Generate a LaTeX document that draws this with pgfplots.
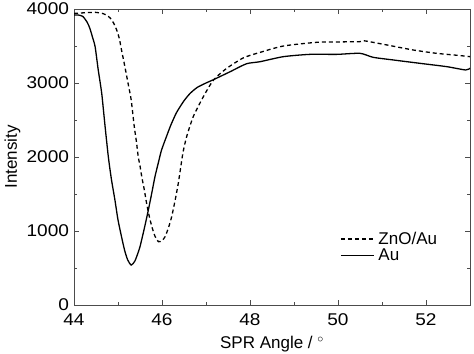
\documentclass[border=0pt]{standalone}
\usepackage{pgfplots}
\pgfplotsset{compat=1.18}
\usepackage{fontspec}
\setmainfont{Liberation Sans}
\usetikzlibrary{calc}
\begin{document}
\begin{tikzpicture}
\begin{axis}[
  name=ax,
  scale only axis,
  width=396bp, height=296bp,
  xmin=44, xmax=53, ymin=0, ymax=4000,
  xtick={44,46,48,50,52},
  ytick={0,1000,2000,3000,4000},
  minor x tick num=1,
  minor y tick num=1,
  tick align=inside,
  major tick length=5bp,
  minor tick length=3bp,
  axis line style={black!70, line width=0.8pt},
  every tick/.style={black!70, line width=0.7pt},
  scaled y ticks=false,
  /pgf/number format/assume math mode=true,
  /pgf/number format/1000 sep={},
  tick label style={font=\fontsize{17bp}{20bp}\selectfont, xscale=1.12},
  xticklabel style={yshift=-5bp},
  yticklabel style={xshift=-1bp},
  label style={font=\fontsize{17bp}{20bp}\selectfont},
  xlabel={SPR Angle / $^\circ$},
  ylabel={Intensity},
  xlabel style={yshift=-4bp},
  ylabel style={yshift=-1bp},
  legend style={draw=none, fill=none, font=\fontsize{17bp}{20bp}\selectfont,
    at={(0.93,0.257)}, anchor=north east, row sep=-1bp, inner sep=1bp,
    nodes={inner xsep=4bp}},
  legend cell align=left,
  legend image code/.code={\draw[#1] (0bp,0bp) -- (33bp,0bp);},
]
\addplot[black, line width=1.3pt, dash pattern=on 4bp off 3bp, smooth, tension=0.4] coordinates {
(44.00,3940) (44.21,3948) (44.48,3955) (44.65,3940) (44.74,3915) (44.82,3880)
(44.90,3810) (44.97,3716) (45.03,3600) (45.08,3446) (45.14,3270) (45.20,3085)
(45.25,2930) (45.30,2770) (45.37,2410) (45.42,2200) (45.46,2004) (45.50,1880)
(45.54,1734) (45.60,1550) (45.65,1374) (45.71,1200) (45.77,1058) (45.84,930)
(45.92,856) (46.00,870) (46.07,923) (46.15,1050) (46.22,1194) (46.30,1420)
(46.37,1644) (46.43,1880) (46.48,2070) (46.56,2275) (46.71,2545) (46.94,2815)
(47.17,3040) (47.47,3198) (47.85,3340) (48.23,3414) (48.76,3500) (49.52,3550)
(50.00,3555) (50.50,3559) (50.60,3570) (51.11,3514) (51.71,3446) (52.24,3401)
(52.70,3375) (53.00,3356)
};
\addlegendentry{ZnO/Au}
\addplot[black, line width=1.3pt, smooth, tension=0.4] coordinates {
(44.00,3920) (44.10,3918) (44.20,3900) (44.30,3820) (44.36,3739) (44.42,3620)
(44.48,3490) (44.55,3180) (44.63,2860) (44.70,2450) (44.78,2004) (44.85,1700)
(44.93,1419) (45.00,1150) (45.08,923) (45.15,740) (45.22,610) (45.30,540)
(45.38,590) (45.44,680) (45.50,788) (45.60,1040) (45.69,1284) (45.77,1520)
(45.84,1734) (45.92,1930) (45.99,2095) (46.11,2290) (46.20,2430) (46.33,2600)
(46.50,2760) (46.64,2860) (46.80,2940) (47.00,3000) (47.17,3045) (47.55,3153)
(47.92,3260) (48.23,3288) (48.76,3356) (49.36,3387) (49.97,3387) (50.50,3401)
(50.80,3347) (51.26,3311) (51.86,3266) (52.47,3221) (52.90,3176) (53.00,3200)
};
\addlegendentry{Au}
\end{axis}
\pgfresetboundingbox
\path ($(ax.south west)+(-74bp,-48bp)$) rectangle ($(ax.north east)+(4bp,9bp)$);
\end{tikzpicture}
\end{document}
